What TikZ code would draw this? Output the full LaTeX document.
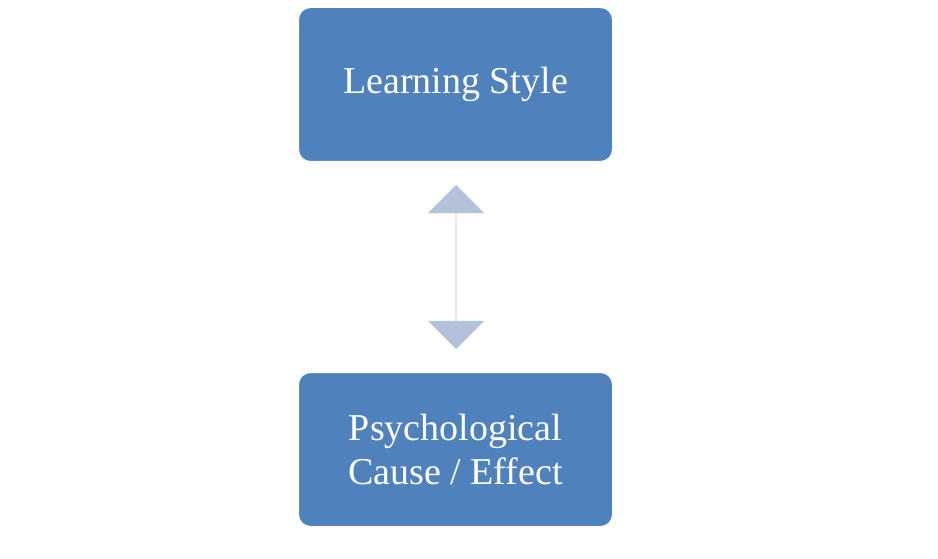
\documentclass[tikz,border=0pt]{standalone}
\usepackage{fontspec}
\setmainfont{Liberation Serif}
\usetikzlibrary{shapes.arrows}
\definecolor{boxblue}{HTML}{4F81BD}
\definecolor{arrowblue}{HTML}{B3C2DA}
\begin{document}
\begin{tikzpicture}[x=1pt,y=1pt,
  box/.style={fill=boxblue,draw=white,line width=1pt,rounded corners=12pt,minimum width=314pt,minimum height=154pt,text=white,align=center,font=\fontsize{38}{44}\selectfont,inner sep=0pt}]
\useasboundingbox (0,0) rectangle (938,558);
\node[box] (top) at (455.5,473.5) {Learning Style};
\node[box] (bot) at (455.5,108.5) {Psychological\\Cause / Effect};
\node[double arrow,fill=arrowblue,rotate=90,minimum height=164pt,minimum width=56pt,double arrow head extend=14pt,inner sep=0pt] (arr) at (456,291) {};
\end{tikzpicture}
\end{document}
